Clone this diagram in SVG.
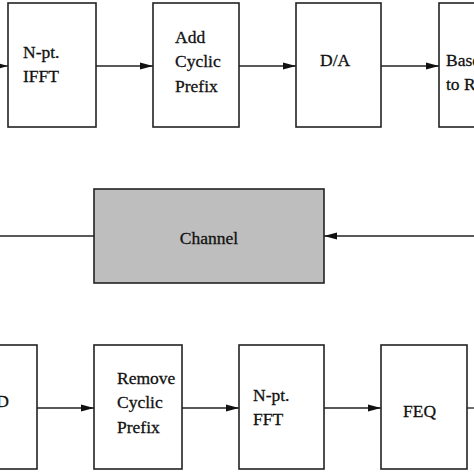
<svg xmlns="http://www.w3.org/2000/svg" width="474" height="474" viewBox="0 0 474 474">
<style>
.box{fill:#fff;stroke:#222;stroke-width:1.6}
.ch{fill:#bebebe;stroke:#222;stroke-width:1.6}
.ln{stroke:#222;stroke-width:1.3;fill:none}
.t{font-family:"Liberation Serif","Times New Roman",serif;font-size:17.5px;fill:#111;stroke:#111;stroke-width:0.3}
</style>
<defs>
<marker id="ah" markerWidth="13" markerHeight="8" refX="13" refY="4" orient="auto" markerUnits="userSpaceOnUse">
<path d="M0,0.5 L13,4 L0,7.5 Z" fill="#111"/>
</marker>
</defs>
<g id="connectors">
<line class="ln" x1="-10" y1="66" x2="8" y2="66" marker-end="url(#ah)"/>
<line class="ln" x1="96" y1="66" x2="153" y2="66" marker-end="url(#ah)"/>
<line class="ln" x1="239" y1="66" x2="296" y2="66" marker-end="url(#ah)"/>
<line class="ln" x1="381" y1="66" x2="439" y2="66" marker-end="url(#ah)"/>
<line class="ln" x1="474" y1="236" x2="324" y2="236" marker-end="url(#ah)"/>
<line class="ln" x1="94" y1="236" x2="0" y2="236"/>
<line class="ln" x1="37" y1="408" x2="94" y2="408" marker-end="url(#ah)"/>
<line class="ln" x1="182" y1="408" x2="239" y2="408" marker-end="url(#ah)"/>
<line class="ln" x1="324" y1="408" x2="381" y2="408" marker-end="url(#ah)"/>
<line class="ln" x1="467" y1="408" x2="476" y2="408"/>
</g>
<g id="ifft">
<rect class="box" x="8" y="3" width="88" height="124"/>
<text class="t" x="23" y="58">N-pt.</text>
<text class="t" x="23" y="82">IFFT</text>
</g>
<g id="addcp">
<rect class="box" x="153" y="3" width="86" height="124"/>
<text class="t" x="175" y="43">Add</text>
<text class="t" x="175" y="67">Cyclic</text>
<text class="t" x="175" y="92">Prefix</text>
</g>
<g id="da">
<rect class="box" x="296" y="3" width="85" height="124"/>
<text class="t" x="320" y="66">D/A</text>
</g>
<g id="baseband">
<rect class="box" x="439" y="3" width="60" height="124"/>
<text class="t" x="446" y="66">Base</text>
<text class="t" x="446" y="90">to R</text>
</g>
<g id="channel">
<rect class="ch" x="94" y="189" width="230" height="94"/>
<text class="t" x="209" y="244" text-anchor="middle">Channel</text>
</g>
<g id="ad">
<rect class="box" x="-20" y="345" width="57" height="124"/>
<text class="t" x="9" y="407" text-anchor="end">D</text>
</g>
<g id="removecp">
<rect class="box" x="94" y="345" width="88" height="124"/>
<text class="t" x="117" y="384">Remove</text>
<text class="t" x="117" y="408">Cyclic</text>
<text class="t" x="117" y="433">Prefix</text>
</g>
<g id="fft">
<rect class="box" x="239" y="345" width="85" height="124"/>
<text class="t" x="253" y="401">N-pt.</text>
<text class="t" x="253" y="425">FFT</text>
</g>
<g id="feq">
<rect class="box" x="381" y="345" width="86" height="124"/>
<text class="t" x="403" y="417">FEQ</text>
</g>
</svg>
